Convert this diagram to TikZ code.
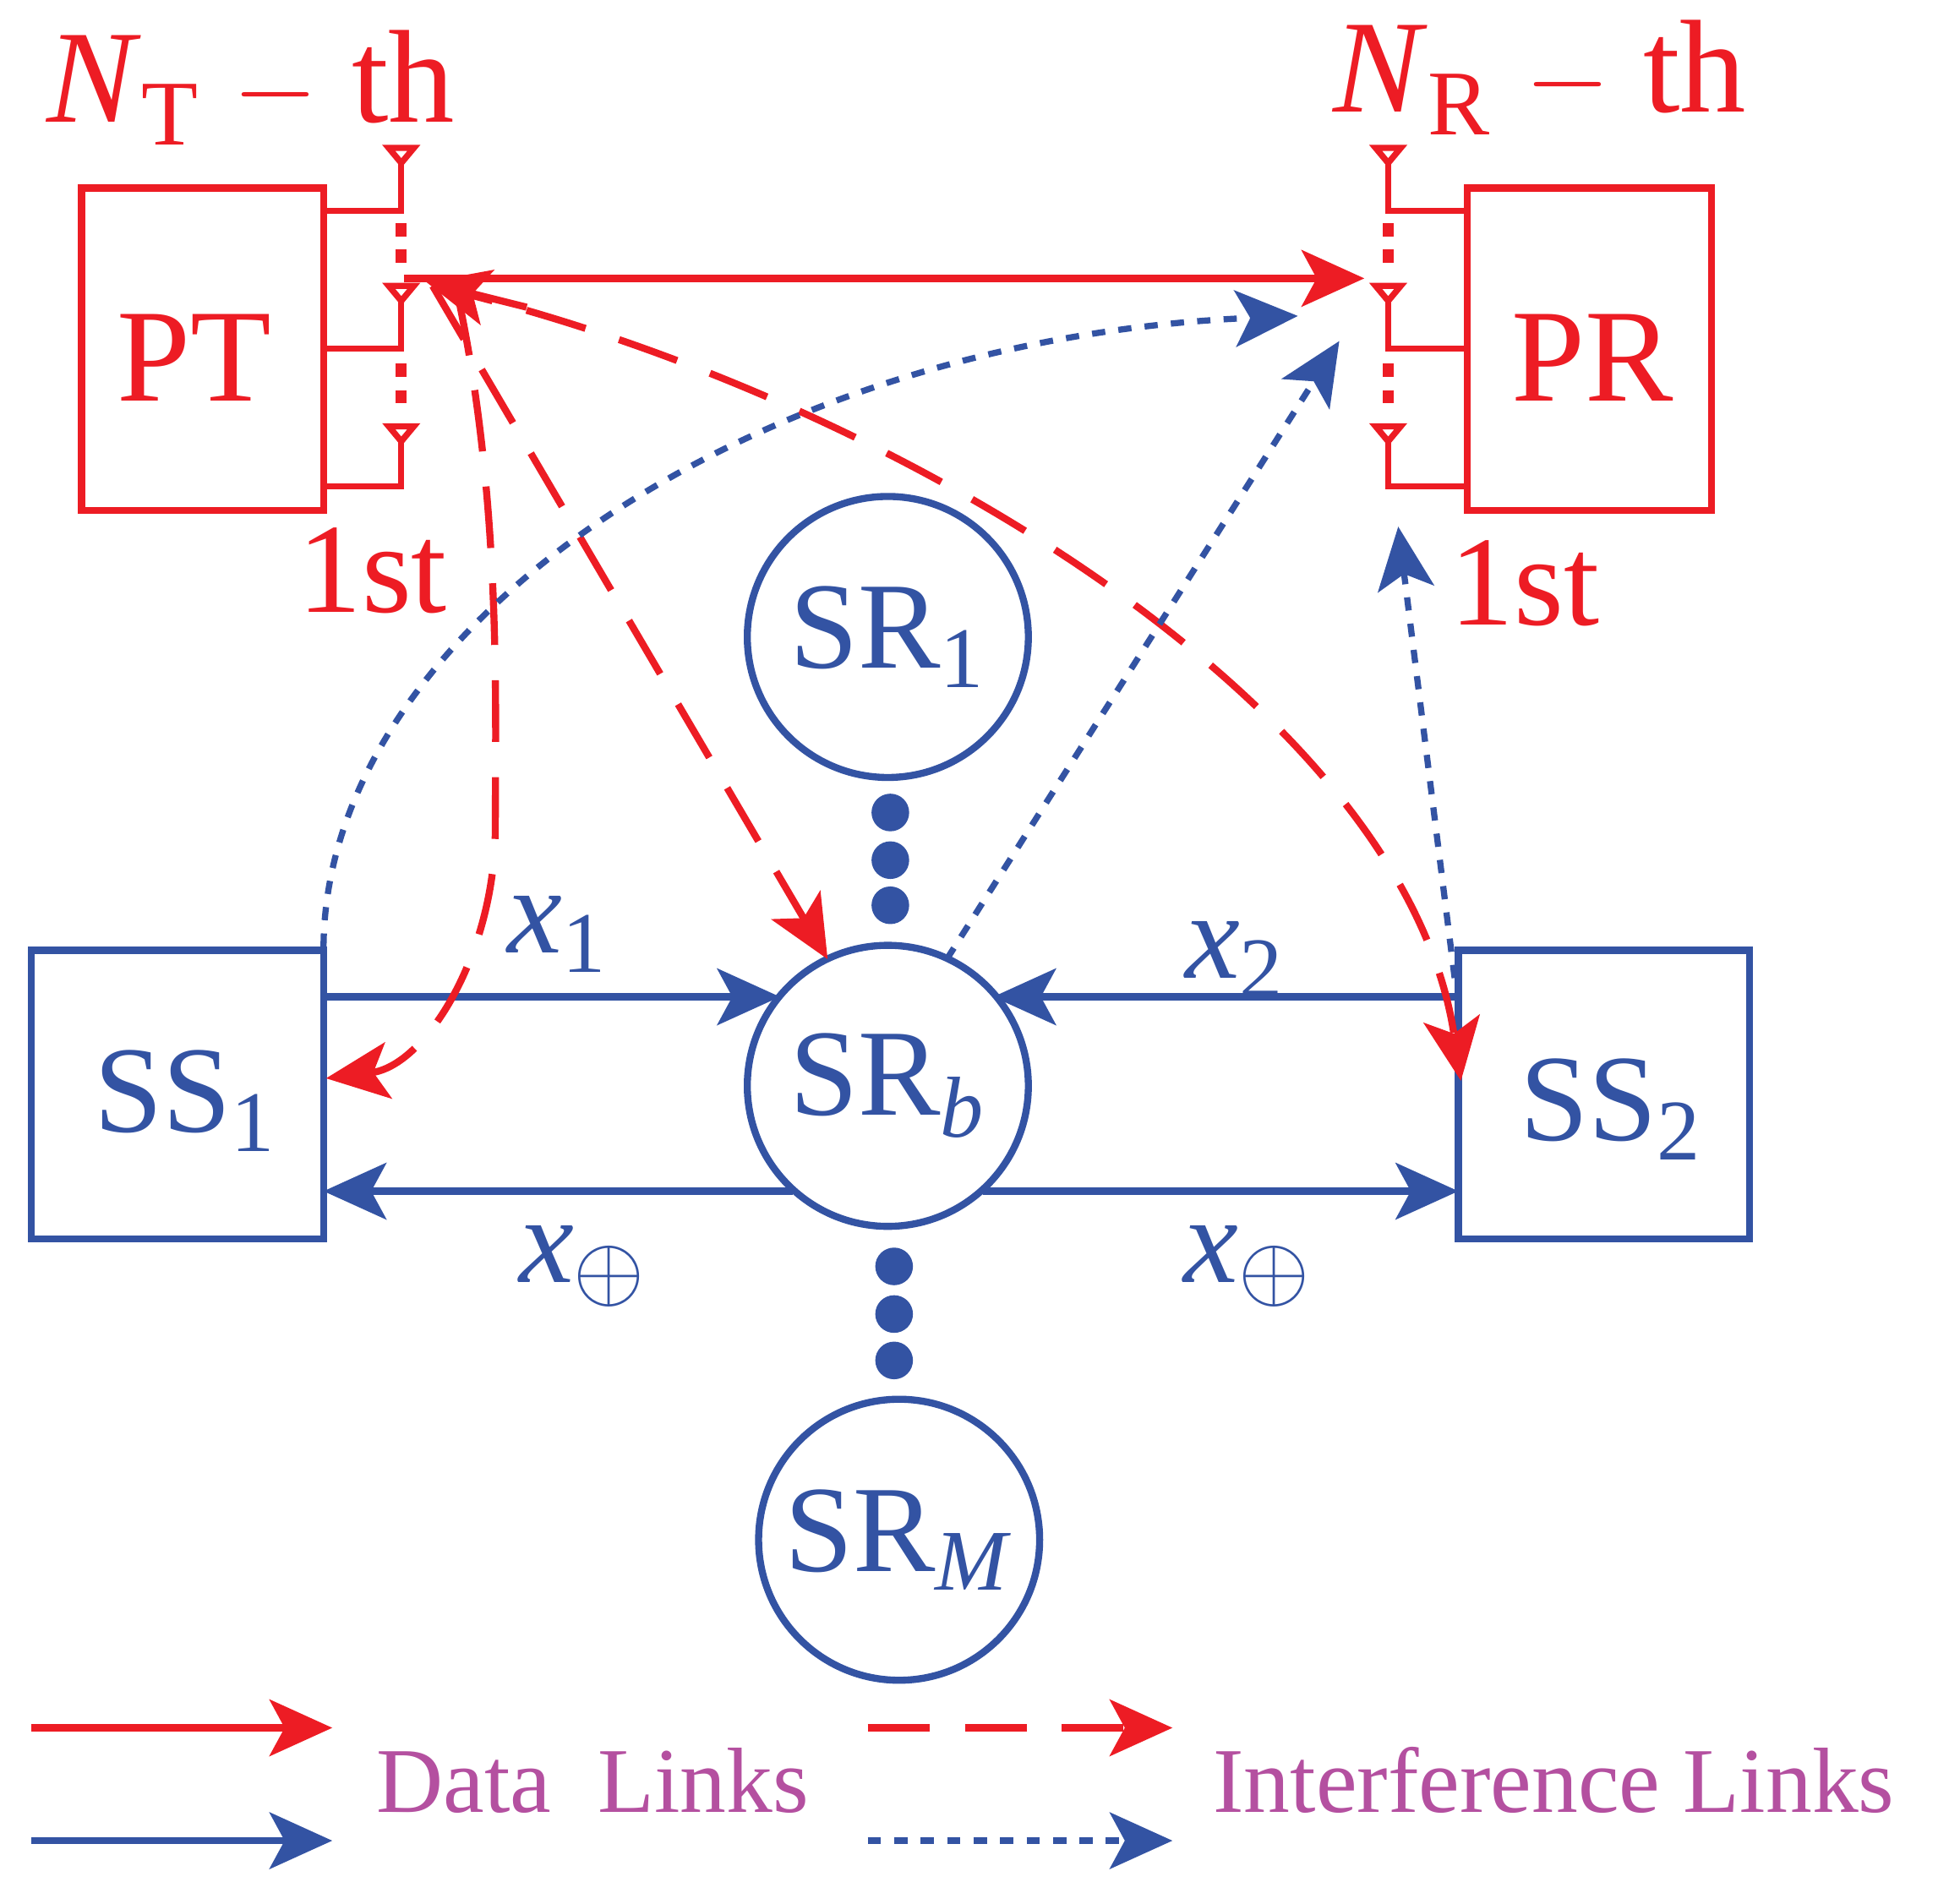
\documentclass[tikz,border=0pt]{standalone}
\usepackage{amsmath}
\usepackage{fontspec}
\setmainfont{Liberation Serif}
\usetikzlibrary{arrows.meta}
\definecolor{rd}{RGB}{237,28,36}
\definecolor{bl}{RGB}{51,83,163}
\definecolor{mg}{RGB}{180,80,160}
\newcommand{\xv}[1]{\textit{x}$_{\text{#1}}$}
\begin{document}
\begin{tikzpicture}[x=0.01cm,y=-0.01cm,
 tip/.style={-{Stealth[length=0.5cm,width=0.45cm,inset=0.12cm]}},
 rl/.style={rd,line width=1.6pt},
 bll/.style={bl,line width=1.6pt},
 rdash/.style={rd,line width=1.6pt,dash pattern=on 14pt off 8pt},
 bdot/.style={bl,line width=1.4pt,dash pattern=on 3pt off 3pt},
 ant/.style={rd,line width=1.4pt},
 big/.style={font=\fontsize{30}{30}\selectfont},
 sr/.style={circle,draw=bl,line width=1.6pt,minimum size=2.24cm,inner sep=0pt,text=bl,font=\fontsize{28}{28}\selectfont},
 dot/.style={circle,fill=bl,minimum size=0.3cm,inner sep=0pt},
 lab/.style={text=bl,font=\fontsize{28}{28}\selectfont},
 leg/.style={text=mg,font=\fontsize{21}{21}\selectfont,anchor=west}]
\useasboundingbox (0,0) rectangle (1563,1518);
% PT
\draw[rl] (65,150) rectangle (258,407);
\node[big,text=rd] (pt) at (155,285) {PT};
\foreach \y/\t in {168/118,278/228,388/340}{
 \draw[ant] (258,\y) -- (320,\y) -- (320,\t+10);
 \draw[ant] (310,\t) -- (330,\t) -- (320,\t+12) -- cycle;
 \draw[ant] (1170,\y) -- (1107,\y) -- (1107,\t+10);
 \draw[ant] (1097,\t) -- (1117,\t) -- (1107,\t+12) -- cycle;
}
\foreach \a/\b in {178/218,290/330}{
 \draw[rd,line width=2.5pt,dash pattern=on 3pt off 3pt] (320,\a)--(320,\b);
 \draw[rd,line width=2.5pt,dash pattern=on 3pt off 3pt] (1107,\a)--(1107,\b);
}
\node[text=rd,font=\fontsize{30}{30}\selectfont] (nt) at (200,70) {\textit{N}$_{\text{T}}$ $-$ th};
\node[text=rd,font=\fontsize{29}{29}\selectfont] (n1) at (297,455) {1st};
\draw[rl] (1170,150) rectangle (1365,407);
\node[big,text=rd] (pr) at (1270,285) {PR};
\node[text=rd,font=\fontsize{30}{30}\selectfont] (nr) at (1228,62) {\textit{N}$_{\text{R}}$ $-$ th};
\node[text=rd,font=\fontsize{29}{29}\selectfont] (r1) at (1216,465) {1st};
\coordinate (pta) at (322,222);
\coordinate (pra) at (1088,222);
% SR nodes
\node[sr] (sr1) at (708,508) {SR$_{\text{1}}$};
\node[sr] (srb) at (708,866) {SR$_{\text{\textit{b}}}$};
\node[sr] (srm) at (717,1228) {SR$_{\text{\textit{M}}}$};
\foreach \i/\x/\y in {a/710/648,b/710/686,c/710/722,d/713/1010,e/713/1048,f/713/1085}
 \node[dot] (d\i) at (\x,\y) {};
\draw[bll] (25,758) rectangle (258,988);
\node[lab] (ss1) at (148,878) {SS$_{\text{1}}$};
\draw[bll] (1163,758) rectangle (1395,988);
\node[lab] (ss2) at (1285,885) {SS$_{\text{2}}$};
% blue data
\draw[bll,tip] (258,795) -- (622,795);
\draw[bll,tip] (1163,795) -- (792,795);
\draw[bll,tip] (632,950) -- (258,950);
\draw[bll,tip] (784,950) -- (1163,950);
\node[lab] (x1) at (445,745) {\xv{1}};
\node[lab] (x2) at (985,765) {\xv{2}};
\node[lab] (x3) at (465,1010) {\textit{x}$_{\oplus}$};
\node[lab] (x4) at (995,1010) {\textit{x}$_{\oplus}$};
% red
\draw[rl,tip] (pta) -- (pra);
\draw[rdash,tip] (345,228) -- (660,765);
\draw[rdash,tip] (365,235) .. controls (400,400) and (395,560) .. (395,660) .. controls (395,760) and (340,850) .. (260,860);
\draw[rdash,tip] (345,228) .. controls (700,310) and (1120,560) .. (1165,862);
\draw[rdash,tip] (420,245) -- (340,225);
% blue dotted
\draw[bdot,tip] (258,755) .. controls (260,500) and (600,270) .. (1035,252);
\draw[bdot,tip] (755,765) -- (1068,272);
\draw[bdot,tip] (1160,780) -- (1115,420);
% legend
\draw[rl,tip] (25,1378) -- (265,1378);
\draw[bll,tip] (25,1468) -- (265,1468);
\draw[rdash,tip] (692,1378) -- (935,1378);
\draw[bdot,tip] (692,1468) -- (935,1468);
\node[leg] (l1) at (288,1420) {Data\ \ Links};
\node[leg] (l2) at (955,1420) {Interference Links};
\end{tikzpicture}
\end{document}
